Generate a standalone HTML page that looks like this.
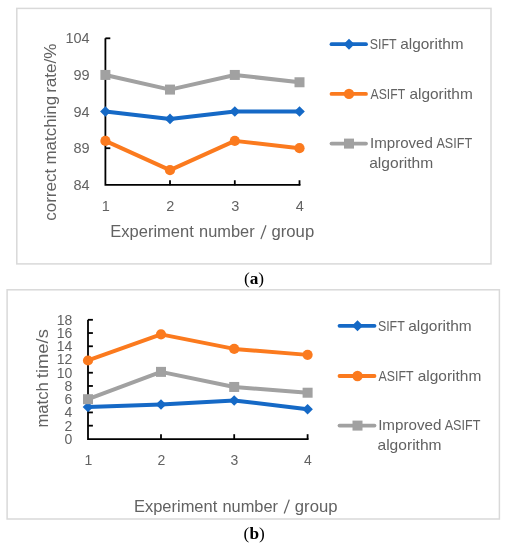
<!DOCTYPE html>
<html><head><meta charset="utf-8"><style>
html,body{margin:0;padding:0;background:#fff;width:507px;height:550px;overflow:hidden}
svg{display:block;will-change:transform}
text{font-family:"Liberation Sans",sans-serif}
</style></head><body>
<svg width="507" height="550" viewBox="0 0 507 550">
<rect x="16.8" y="8.4" width="474.2" height="255.5" fill="none" stroke="#d9d9d9" stroke-width="1.5"/>
<path d="M105.4,38.3 V184.85 H300.4" fill="none" stroke="#000" stroke-width="1.8"/>
<path d="M105.4,148.21 H110.30000000000001" stroke="#000" stroke-width="1.8"/>
<path d="M105.4,111.57 H110.30000000000001" stroke="#000" stroke-width="1.8"/>
<path d="M105.4,74.94 H110.30000000000001" stroke="#000" stroke-width="1.8"/>
<path d="M105.4,38.30 H110.30000000000001" stroke="#000" stroke-width="1.8"/>
<path d="M170,185.35 V180.25" stroke="#000" stroke-width="1.8"/>
<path d="M234.8,185.35 V180.25" stroke="#000" stroke-width="1.8"/>
<path d="M299.5,185.35 V180.25" stroke="#000" stroke-width="1.8"/>
<text x="89.6" y="189.85" font-size="14.5" text-anchor="end" fill="#626262">84</text>
<text x="89.6" y="153.21" font-size="14.5" text-anchor="end" fill="#626262">89</text>
<text x="89.6" y="116.57" font-size="14.5" text-anchor="end" fill="#626262">94</text>
<text x="89.6" y="79.94" font-size="14.5" text-anchor="end" fill="#626262">99</text>
<text x="89.6" y="43.30" font-size="14.5" text-anchor="end" fill="#626262">104</text>
<text x="105.80000000000001" y="210.8" font-size="14.5" text-anchor="middle" fill="#626262">1</text>
<text x="170.4" y="210.8" font-size="14.5" text-anchor="middle" fill="#626262">2</text>
<text x="235.20000000000002" y="210.8" font-size="14.5" text-anchor="middle" fill="#626262">3</text>
<text x="299.9" y="210.8" font-size="14.5" text-anchor="middle" fill="#626262">4</text>
<polyline points="105.40,111.57 170.00,118.90 234.80,111.57 299.50,111.57" fill="none" stroke="#1569c6" stroke-width="4.0" stroke-linejoin="round" stroke-linecap="round"/>
<path d="M100.10,111.57 L105.40,106.27 L110.70,111.57 L105.40,116.87 Z" fill="#1569c6"/>
<path d="M164.70,118.90 L170.00,113.60 L175.30,118.90 L170.00,124.20 Z" fill="#1569c6"/>
<path d="M229.50,111.57 L234.80,106.27 L240.10,111.57 L234.80,116.87 Z" fill="#1569c6"/>
<path d="M294.20,111.57 L299.50,106.27 L304.80,111.57 L299.50,116.87 Z" fill="#1569c6"/>
<polyline points="105.40,140.88 170.00,170.19 234.80,140.88 299.50,148.21" fill="none" stroke="#fb7a1e" stroke-width="4.0" stroke-linejoin="round" stroke-linecap="round"/>
<circle cx="105.40" cy="140.88" r="5.1" fill="#fb7a1e"/>
<circle cx="170.00" cy="170.19" r="5.1" fill="#fb7a1e"/>
<circle cx="234.80" cy="140.88" r="5.1" fill="#fb7a1e"/>
<circle cx="299.50" cy="148.21" r="5.1" fill="#fb7a1e"/>
<polyline points="105.40,74.94 170.00,89.59 234.80,74.94 299.50,82.26" fill="none" stroke="#a1a1a1" stroke-width="4.0" stroke-linejoin="round" stroke-linecap="round"/>
<rect x="100.40" y="69.94" width="10" height="10" fill="#a1a1a1"/>
<rect x="165.00" y="84.59" width="10" height="10" fill="#a1a1a1"/>
<rect x="229.80" y="69.94" width="10" height="10" fill="#a1a1a1"/>
<rect x="294.50" y="77.26" width="10" height="10" fill="#a1a1a1"/>
<path d="M331.5,44.2 H366" stroke="#1569c6" stroke-width="3.8" stroke-linecap="round"/>
<path d="M343.50,44.20 L349.00,38.70 L354.50,44.20 L349.00,49.70 Z" fill="#1569c6"/>
<path d="M331.5,93.9 H366" stroke="#fb7a1e" stroke-width="3.8" stroke-linecap="round"/>
<circle cx="349.00" cy="93.90" r="5.2" fill="#fb7a1e"/>
<path d="M331.5,143.6 H366" stroke="#a1a1a1" stroke-width="3.8" stroke-linecap="round"/>
<rect x="344.00" y="138.60" width="10" height="10" fill="#a1a1a1"/>
<text x="254" y="284.1" font-size="17.3" text-anchor="middle" fill="#000" style="font-family:'Liberation Serif',serif">(<tspan font-weight="bold">a</tspan>)</text>
<rect x="7.1" y="289.8" width="492.3" height="229.2" fill="none" stroke="#d9d9d9" stroke-width="1.5"/>
<path d="M88,319.8 V439.2 H308.5" fill="none" stroke="#000" stroke-width="1.8"/>
<path d="M88,425.67 H92.9" stroke="#000" stroke-width="1.8"/>
<path d="M88,412.43 H92.9" stroke="#000" stroke-width="1.8"/>
<path d="M88,399.20 H92.9" stroke="#000" stroke-width="1.8"/>
<path d="M88,385.97 H92.9" stroke="#000" stroke-width="1.8"/>
<path d="M88,372.73 H92.9" stroke="#000" stroke-width="1.8"/>
<path d="M88,359.50 H92.9" stroke="#000" stroke-width="1.8"/>
<path d="M88,346.27 H92.9" stroke="#000" stroke-width="1.8"/>
<path d="M88,333.03 H92.9" stroke="#000" stroke-width="1.8"/>
<path d="M88,319.80 H92.9" stroke="#000" stroke-width="1.8"/>
<path d="M161,439.4 V434.2" stroke="#000" stroke-width="1.8"/>
<path d="M234.2,439.4 V434.2" stroke="#000" stroke-width="1.8"/>
<path d="M307.6,439.4 V434.2" stroke="#000" stroke-width="1.8"/>
<text x="72.4" y="443.80" font-size="14" text-anchor="end" fill="#626262">0</text>
<text x="72.4" y="430.57" font-size="14" text-anchor="end" fill="#626262">2</text>
<text x="72.4" y="417.33" font-size="14" text-anchor="end" fill="#626262">4</text>
<text x="72.4" y="404.10" font-size="14" text-anchor="end" fill="#626262">6</text>
<text x="72.4" y="390.87" font-size="14" text-anchor="end" fill="#626262">8</text>
<text x="72.4" y="377.63" font-size="14" text-anchor="end" fill="#626262">10</text>
<text x="72.4" y="364.40" font-size="14" text-anchor="end" fill="#626262">12</text>
<text x="72.4" y="351.17" font-size="14" text-anchor="end" fill="#626262">14</text>
<text x="72.4" y="337.93" font-size="14" text-anchor="end" fill="#626262">16</text>
<text x="72.4" y="324.70" font-size="14" text-anchor="end" fill="#626262">18</text>
<text x="88.3" y="464.8" font-size="14" text-anchor="middle" fill="#626262">1</text>
<text x="161.3" y="464.8" font-size="14" text-anchor="middle" fill="#626262">2</text>
<text x="234.5" y="464.8" font-size="14" text-anchor="middle" fill="#626262">3</text>
<text x="307.90000000000003" y="464.8" font-size="14" text-anchor="middle" fill="#626262">4</text>
<polyline points="88.00,407.01 161.00,404.49 234.20,400.52 307.60,409.19" fill="none" stroke="#1569c6" stroke-width="4.0" stroke-linejoin="round" stroke-linecap="round"/>
<path d="M82.70,407.01 L88.00,401.71 L93.30,407.01 L88.00,412.31 Z" fill="#1569c6"/>
<path d="M155.70,404.49 L161.00,399.19 L166.30,404.49 L161.00,409.79 Z" fill="#1569c6"/>
<path d="M228.90,400.52 L234.20,395.22 L239.50,400.52 L234.20,405.82 Z" fill="#1569c6"/>
<path d="M302.30,409.19 L307.60,403.89 L312.90,409.19 L307.60,414.49 Z" fill="#1569c6"/>
<polyline points="88.00,360.49 161.00,334.36 234.20,348.91 307.60,354.87" fill="none" stroke="#fb7a1e" stroke-width="4.0" stroke-linejoin="round" stroke-linecap="round"/>
<circle cx="88.00" cy="360.49" r="5.1" fill="#fb7a1e"/>
<circle cx="161.00" cy="334.36" r="5.1" fill="#fb7a1e"/>
<circle cx="234.20" cy="348.91" r="5.1" fill="#fb7a1e"/>
<circle cx="307.60" cy="354.87" r="5.1" fill="#fb7a1e"/>
<polyline points="88.00,399.20 161.00,371.87 234.20,386.96 307.60,392.72" fill="none" stroke="#a1a1a1" stroke-width="4.0" stroke-linejoin="round" stroke-linecap="round"/>
<rect x="83.00" y="394.20" width="10" height="10" fill="#a1a1a1"/>
<rect x="156.00" y="366.87" width="10" height="10" fill="#a1a1a1"/>
<rect x="229.20" y="381.96" width="10" height="10" fill="#a1a1a1"/>
<rect x="302.60" y="387.72" width="10" height="10" fill="#a1a1a1"/>
<path d="M339.5,325.8 H374.5" stroke="#1569c6" stroke-width="3.8" stroke-linecap="round"/>
<path d="M352.00,325.80 L357.50,320.30 L363.00,325.80 L357.50,331.30 Z" fill="#1569c6"/>
<path d="M339.5,376.0 H374.5" stroke="#fb7a1e" stroke-width="3.8" stroke-linecap="round"/>
<circle cx="357.50" cy="376.00" r="5.2" fill="#fb7a1e"/>
<path d="M339.5,425.6 H374.5" stroke="#a1a1a1" stroke-width="3.8" stroke-linecap="round"/>
<rect x="352.50" y="420.60" width="10" height="10" fill="#a1a1a1"/>
<text x="254.2" y="539" font-size="17.3" text-anchor="middle" fill="#000" style="font-family:'Liberation Serif',serif">(<tspan font-weight="bold">b</tspan>)</text>
<text x="369.79" y="48.7" font-size="14.5" text-anchor="start" fill="#626262" textLength="26.85" lengthAdjust="spacingAndGlyphs">SIFT</text>
<text x="400.29" y="48.7" font-size="14.5" text-anchor="start" fill="#626262" textLength="63.28" lengthAdjust="spacingAndGlyphs">algorithm</text>
<text x="370.61" y="99.0" font-size="14.5" text-anchor="start" fill="#626262" textLength="34.54" lengthAdjust="spacingAndGlyphs">ASIFT</text>
<text x="409.42" y="99.0" font-size="14.5" text-anchor="start" fill="#626262" textLength="63.36" lengthAdjust="spacingAndGlyphs">algorithm</text>
<text x="370.06" y="148.0" font-size="14.5" text-anchor="start" fill="#626262" textLength="62.85" lengthAdjust="spacingAndGlyphs">Improved</text>
<text x="436.42" y="148.0" font-size="14.5" text-anchor="start" fill="#626262" textLength="35.68" lengthAdjust="spacingAndGlyphs">ASIFT</text>
<text x="369.20" y="167.7" font-size="14.5" text-anchor="start" fill="#626262" textLength="64.07" lengthAdjust="spacingAndGlyphs">algorithm</text>
<text x="377.90" y="331.0" font-size="14.5" text-anchor="start" fill="#626262" textLength="26.82" lengthAdjust="spacingAndGlyphs">SIFT</text>
<text x="408.20" y="331.0" font-size="14.5" text-anchor="start" fill="#626262" textLength="63.56" lengthAdjust="spacingAndGlyphs">algorithm</text>
<text x="378.55" y="380.6" font-size="14.5" text-anchor="start" fill="#626262" textLength="34.94" lengthAdjust="spacingAndGlyphs">ASIFT</text>
<text x="417.74" y="380.6" font-size="14.5" text-anchor="start" fill="#626262" textLength="63.58" lengthAdjust="spacingAndGlyphs">algorithm</text>
<text x="378.17" y="430.1" font-size="14.5" text-anchor="start" fill="#626262" textLength="63.30" lengthAdjust="spacingAndGlyphs">Improved</text>
<text x="444.69" y="430.1" font-size="14.5" text-anchor="start" fill="#626262" textLength="35.64" lengthAdjust="spacingAndGlyphs">ASIFT</text>
<text x="377.51" y="449.6" font-size="14.5" text-anchor="start" fill="#626262" textLength="64.06" lengthAdjust="spacingAndGlyphs">algorithm</text>
<text x="110.28" y="237.1" font-size="16.5" text-anchor="start" fill="#626262" textLength="83.56" lengthAdjust="spacingAndGlyphs">Experiment</text>
<text x="199.12" y="237.1" font-size="16.5" text-anchor="start" fill="#626262" textLength="55.58" lengthAdjust="spacingAndGlyphs">number</text>
<path d="M260.90,239.10 L266.00,225.20" stroke="#626262" stroke-width="1.25" stroke-linecap="butt"/>
<text x="271.49" y="237.1" font-size="16.5" text-anchor="start" fill="#626262" textLength="42.69" lengthAdjust="spacingAndGlyphs">group</text>
<text x="133.97" y="511.5" font-size="16.5" text-anchor="start" fill="#626262" textLength="83.27" lengthAdjust="spacingAndGlyphs">Experiment</text>
<text x="222.42" y="511.5" font-size="16.5" text-anchor="start" fill="#626262" textLength="55.61" lengthAdjust="spacingAndGlyphs">number</text>
<path d="M284.20,513.50 L289.30,499.60" stroke="#626262" stroke-width="1.25" stroke-linecap="butt"/>
<text x="294.85" y="511.5" font-size="16.5" text-anchor="start" fill="#626262" textLength="42.66" lengthAdjust="spacingAndGlyphs">group</text>
<text transform="translate(55.5,220.80) rotate(-90)" x="0" y="0" font-size="16" text-anchor="start" fill="#626262" textLength="52.00" lengthAdjust="spacingAndGlyphs">correct</text>
<text transform="translate(55.5,164.59) rotate(-90)" x="0" y="0" font-size="16" text-anchor="start" fill="#626262" textLength="68.82" lengthAdjust="spacingAndGlyphs">matching</text>
<text transform="translate(55.5,92.84) rotate(-90)" x="0" y="0" font-size="16" text-anchor="start" fill="#626262" textLength="49.39" lengthAdjust="spacingAndGlyphs">rate/%</text>
<text transform="translate(47.8,427.49) rotate(-90)" x="0" y="0" font-size="16" text-anchor="start" fill="#626262" textLength="45.25" lengthAdjust="spacingAndGlyphs">match</text>
<text transform="translate(47.8,378.16) rotate(-90)" x="0" y="0" font-size="16" text-anchor="start" fill="#626262" textLength="49.07" lengthAdjust="spacingAndGlyphs">time/s</text>
</svg>
</body></html>
